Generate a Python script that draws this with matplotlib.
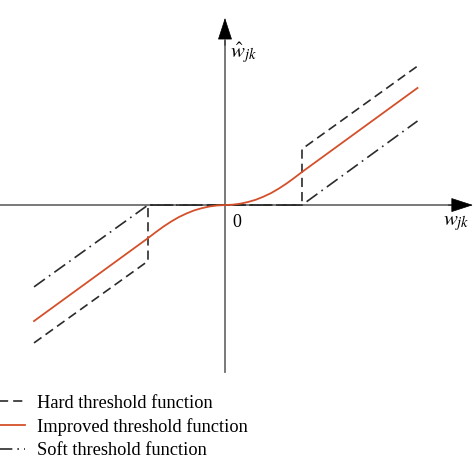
import matplotlib
matplotlib.use("Agg")
import matplotlib.pyplot as plt

plt.rcParams['font.family'] = ['Liberation Serif', 'DejaVu Serif']
plt.rcParams['mathtext.fontset'] = 'stix'

# ---------------- DATA (x in units of the threshold lambda) ----------------
hard_x = [-2.48, -1.0, -1.0, 1.0, 1.0, 2.5]
hard_y = [-2.46, -1.0, 0.0, 0.0, 1.0, 2.48]

soft_x = [-2.48, -1.0, 1.0, 2.5]
soft_y = [-1.46, 0.0, 0.0, 1.5]

improved_x = [-2.48, -1.5, -1.3, -1.2, -1.1, -1.0, -0.9, -0.8, -0.7, -0.6,
              -0.5, -0.4, -0.3, -0.2, -0.1, 0.0, 0.1, 0.2, 0.3, 0.4, 0.5,
              0.6, 0.7, 0.8, 0.9, 1.0, 1.1, 1.2, 1.3, 1.5, 2.5]
improved_y = [-2.07, -1.09, -0.89, -0.79, -0.69, -0.59, -0.485, -0.385,
              -0.295, -0.215, -0.15, -0.095, -0.055, -0.025, -0.007, 0.0,
              0.007, 0.025, 0.055, 0.095, 0.15, 0.215, 0.295, 0.385, 0.485,
              0.59, 0.69, 0.79, 0.89, 1.09, 2.09]

labels = ["Hard threshold function",
          "Improved threshold function",
          "Soft threshold function"]

# ---------------- PLOT ----------------
fig = plt.figure(figsize=(4.74, 4.74), dpi=100)
ax = fig.add_axes([0, 0, 1, 1])
ax.set_xlim(-2.922, 3.234)
ax.set_ylim(-4.80, 3.66)
ax.axis('off')

# axes with arrows
axis_color = '#6e6e6e'
ax.plot([-2.93, 2.98], [0, 0], color=axis_color, lw=1.3, zorder=1)
ax.plot([0, 0], [-2.98, 2.92], color=axis_color, lw=1.3, zorder=1)
head = dict(arrowstyle='-|>,head_length=0.4,head_width=0.13',
            mutation_scale=36, color='black', lw=0.5,
            shrinkA=0, shrinkB=0)
ax.annotate('', xy=(3.22, 0), xytext=(2.9, 0), arrowprops=head)
ax.annotate('', xy=(0, 3.34), xytext=(0, 2.85), arrowprops=head)

# curves
h1, = ax.plot(hard_x, hard_y, color='#2b2b2b', lw=1.2,
              dashes=(5.5, 3.0), zorder=3)
h2, = ax.plot(improved_x, improved_y, color='#d4502a', lw=1.3, zorder=4)
h3, = ax.plot(soft_x, soft_y, color='#2b2b2b', lw=1.2,
              dashes=(8.0, 3.0, 1.0, 3.0), zorder=3)

# axis labels
ax.text(0.24, 2.71, r'$\hat{w}_{jk}$', fontsize=15, ha='center', va='center')
ax.text(3.0, -0.33, r'$w_{jk}$', fontsize=15, ha='center', va='center')
ax.text(0.15, -0.32, '0', fontsize=13, ha='center', va='center')

fig.legend([h1, h2, h3], labels,
           loc='upper left', bbox_to_anchor=(-0.02, 0.1675),
           frameon=False, fontsize=13.2,
           handlelength=1.9, handletextpad=0.65,
           labelspacing=0.34, borderpad=0, borderaxespad=0)

plt.savefig("out.png", dpi=100)
